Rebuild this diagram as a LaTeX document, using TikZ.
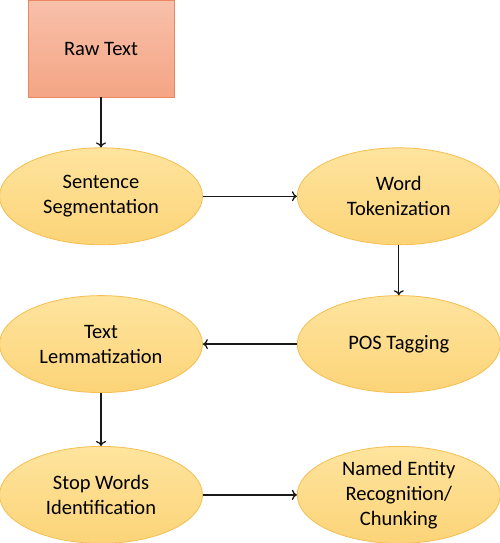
\documentclass[tikz,border=0pt]{standalone}
\usepackage{fontspec}
\setmainfont{Carlito}
\usetikzlibrary{positioning, arrows, arrows.meta, shapes}

\definecolor{rawtop}{RGB}{248,192,170}
\definecolor{rawbot}{RGB}{244,165,132}
\definecolor{rawline}{RGB}{236,135,100}
\definecolor{steptop}{RGB}{254,228,158}
\definecolor{stepbot}{RGB}{252,212,120}
\definecolor{stepline}{RGB}{245,190,82}

\tikzset{
  rawbox/.style={rectangle, draw=rawline, line width=0.8bp, top color=rawtop, bottom color=rawbot, minimum width=146bp, minimum height=97bp, inner sep=0pt, font=\fontsize{20.5bp}{25bp}\selectfont},
  stepnode/.style={ellipse, draw=stepline, line width=0.8bp, top color=steptop, bottom color=stepbot, minimum width=203bp, minimum height=97bp, inner sep=0pt, align=center, font=\fontsize{20.5bp}{25bp}\selectfont},
  flow/.style={-{To[length=5bp,width=10bp]}, line width=1.3bp, color=black!90}
}

\begin{document}
\begin{tikzpicture}
    \useasboundingbox (0,0) rectangle (500bp,-543bp);
    \node[rawbox] (raw) at (101bp,-48.5bp) {Raw Text};
    \node[stepnode, below=50bp of raw] (sent) {Sentence\\Segmentation};
    \node[stepnode, right=94bp of sent] (word) {Word\\Tokenization};
    \node[stepnode, below=50bp of word] (pos) {POS Tagging};
    \node[stepnode, left=94bp of pos] (lemma) {Text\\Lemmatization};
    \node[stepnode, below=53bp of lemma] (stop) {Stop Words\\Identification};
    \node[stepnode, right=94bp of stop] (ner) {Named Entity\\Recognition/\\Chunking};

    \draw[flow] (raw) -- (sent);
    \draw[flow] (sent) -- (word);
    \draw[flow] (word) -- (pos);
    \draw[flow] (pos) -- (lemma);
    \draw[flow] (lemma) -- (stop);
    \draw[flow] (stop) -- (ner);
\end{tikzpicture}
\end{document}
